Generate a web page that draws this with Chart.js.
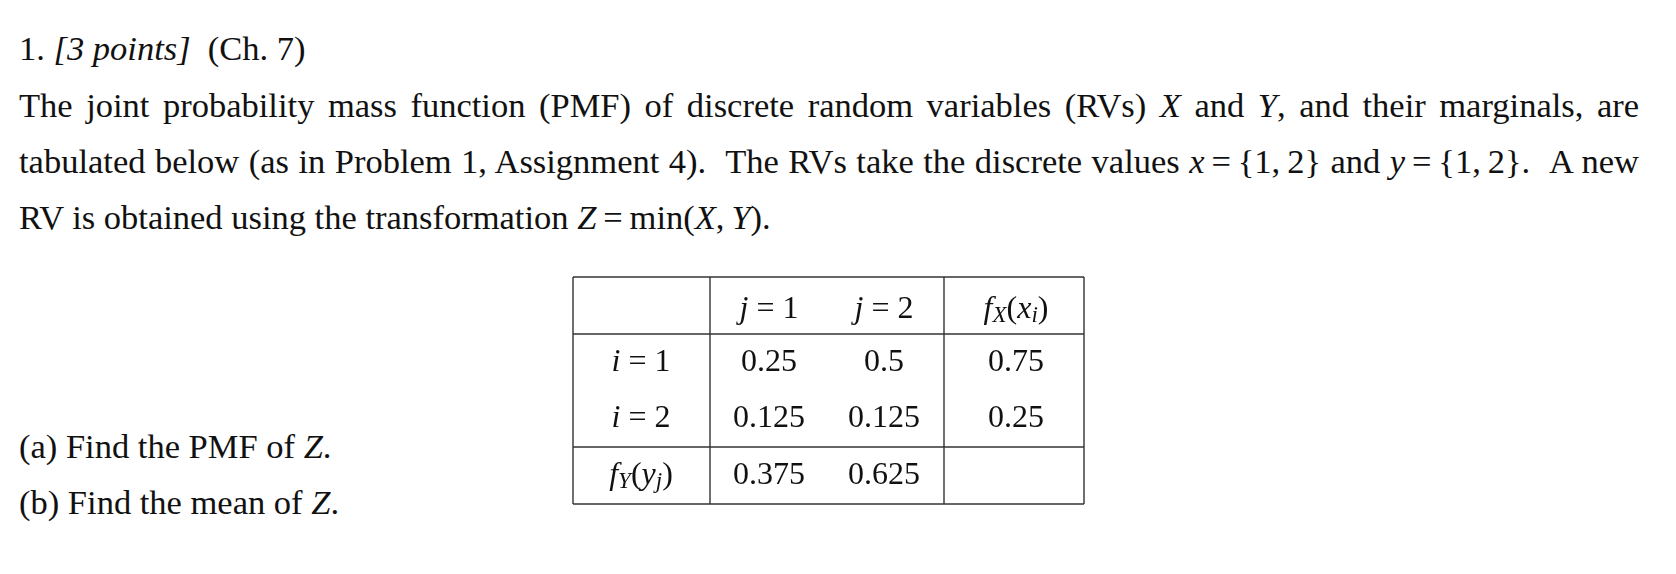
<!DOCTYPE html>
<html><head><meta charset="utf-8">
<script src="https://cdn.jsdelivr.net/npm/chart.js@4"></script>
<style>
body{margin:0;background:#fff;width:1676px;height:574px;position:relative;font-family:"Liberation Serif","DejaVu Serif",serif;font-size:34.5px;color:#111;}
.l{position:absolute;left:19px;white-space:nowrap;line-height:40px;}
.j{width:1620px;text-align:justify;text-align-last:justify;white-space:normal;}
i{font-style:italic}
#wrap{position:absolute;left:563px;top:267px;width:531px;height:247px;}
</style></head><body>
<div class="l" style="top:28px">1. <i>[3 points]</i> &nbsp;(Ch. 7)</div>
<div class="l j" style="top:85px">The joint probability mass function (PMF) of discrete random variables (RVs) <i>X</i> and <i>Y</i>, and their marginals, are</div>
<div class="l j" style="top:141px">tabulated below (as in Problem 1, Assignment 4). &nbsp;The RVs take the discrete values <i>x</i>&thinsp;=&thinsp;{1,&thinsp;2} and <i>y</i>&thinsp;=&thinsp;{1,&thinsp;2}. &nbsp;A new</div>
<div class="l" style="top:197px">RV is obtained using the transformation <i>Z</i>&thinsp;=&thinsp;min(<i>X</i>,&thinsp;<i>Y</i>).</div>
<div class="l" style="top:426px">(a) Find the PMF of <i>Z</i>.</div>
<div class="l" style="top:482px">(b) Find the mean of <i>Z</i>.</div>
<div id="wrap"><canvas id="tbl"></canvas></div>
<script>
// table contents: each cell is a list of [text, italic, subscript]
var colHeads = [[], [['j',1,0],[' = 1',0,0]], [['j',1,0],[' = 2',0,0]], [['f',1,0],['X',1,1],['(',0,0],['x',1,0],['i',1,1],[')',0,0]]];
var rowHeads = [[['i',1,0],[' = 1',0,0]], [['i',1,0],[' = 2',0,0]], [['f',1,0],['Y',1,1],['(',0,0],['y',1,0],['j',1,1],[')',0,0]]];
var pmfJ1 = ['0.25', '0.125', '0.375'];
var pmfJ2 = ['0.5', '0.125', '0.625'];
var margX = ['0.75', '0.25', ''];

// layout (table units = px of the table box)
var colCenters = [68, 196, 311, 443];
var colLines = [0, 137, 371, 511];
var rowCenters = [33, 86, 142, 199];
var rowLines = [0, 57, 170, 227];

function fontFor(it, sub){ return (it ? 'italic ' : '') + (sub ? '23px' : '32px') + ' "Liberation Serif", serif'; }

function drawRich(ctx, segs, cx, cy) {
  var w = 0;
  segs.forEach(function(s){ ctx.font = fontFor(s[1], s[2]); w += ctx.measureText(s[0]).width; });
  var x = cx - w / 2;
  ctx.textAlign = 'left';
  segs.forEach(function(s){
    ctx.font = fontFor(s[1], s[2]);
    ctx.fillText(s[0], x, cy + (s[2] ? 6 : 0));
    x += ctx.measureText(s[0]).width;
  });
}

var tablePlugin = {
  id: 'tbl',
  afterDraw: function(c) {
    var ctx = c.ctx, xs = c.scales.x, ys = c.scales.y;
    var X = function(v){return xs.getPixelForValue(v);}, Y = function(v){return ys.getPixelForValue(v);};
    ctx.save();
    ctx.strokeStyle = '#333'; ctx.lineWidth = 1.4;
    rowLines.forEach(function(r){ctx.beginPath();ctx.moveTo(X(0),Y(r));ctx.lineTo(X(511),Y(r));ctx.stroke();});
    colLines.forEach(function(q){ctx.beginPath();ctx.moveTo(X(q),Y(0));ctx.lineTo(X(q),Y(227));ctx.stroke();});
    ctx.fillStyle = '#111'; ctx.textBaseline = 'middle';
    colHeads.forEach(function(h, ci){ drawRich(ctx, h, X(colCenters[ci]), Y(rowCenters[0])); });
    rowHeads.forEach(function(h, k){
      drawRich(ctx, h, X(colCenters[0]), Y(rowCenters[k + 1]));
      [pmfJ1[k], pmfJ2[k], margX[k]].forEach(function(t, ci){
        drawRich(ctx, [[t,0,0]], X(colCenters[ci + 1]), Y(rowCenters[k + 1]));
      });
    });
    ctx.restore();
  }
};

new Chart(document.getElementById('tbl'), {
  type: 'scatter',
  data: {datasets: [{data: []}]},
  options: {
    responsive: true, maintainAspectRatio: false, animation: false,
    layout: {padding: 10},
    plugins: {legend: {display: false}, tooltip: {enabled: false}},
    scales: {
      x: {type: 'linear', min: 0, max: 511, display: false},
      y: {type: 'linear', min: 0, max: 227, reverse: true, display: false}
    }
  },
  plugins: [tablePlugin]
});
</script>
</body></html>
